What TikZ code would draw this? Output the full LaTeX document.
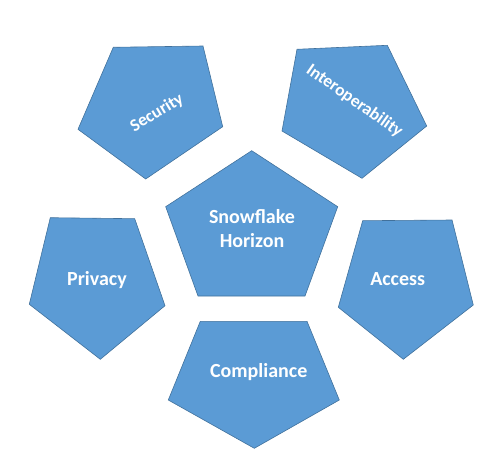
\documentclass[tikz,border=0pt]{standalone}
\usepackage{fontspec}
\setmainfont{Carlito}
\usetikzlibrary{positioning}

\definecolor{petalfill}{HTML}{5B9BD5}
\definecolor{petaledge}{HTML}{41719C}

\begin{document}
\begin{tikzpicture}[x=1pt,y=-1pt,
  petal/.style={fill=petalfill,draw=petaledge,line width=0.6pt,line join=miter},
  lbl/.style={text=white,font=\bfseries\fontsize{20}{24.5}\selectfont,align=center,inner sep=0pt},
  tilted/.style={lbl,font=\bfseries\fontsize{17.5}{21}\selectfont}]

\useasboundingbox (0,0) rectangle (492,468);

% Centre pentagon
\filldraw[petal] (251.7,150.7) -- (337.7,206.7) -- (305,296) -- (198,296) -- (165.7,206.7) -- cycle;
\node[lbl] (horizon) at (252,228.5) {Snowflake\\Horizon};

% Upper left and upper right
\filldraw[petal] (113.3,47.3) -- (203,46) -- (222.7,126.7) -- (145.7,179) -- (78,129.3) -- cycle;
\node[tilted,rotate=31] (security) at (157,113) {Security};

\filldraw[petal] (297,49.3) -- (387.3,45.3) -- (426.7,126) -- (362,178.3) -- (282,131) -- cycle;
\node[tilted,rotate=-35] (interop) at (354.5,101) {Interoperability};

% Left and right
\filldraw[petal] (50.3,217.7) -- (134.7,218.7) -- (165,305.7) -- (100.3,359.3) -- (29.3,304.3) -- cycle;
\node[lbl] (privacy) at (97,280) {Privacy};

\filldraw[petal] (362.7,220.7) -- (452,220) -- (473.3,305) -- (403.3,359.3) -- (338.3,307.3) -- cycle;
\node[lbl] (access) at (397.7,279.3) {Access};

% Bottom
\filldraw[petal] (200.3,321.3) -- (307,321.3) -- (339.3,400) -- (254.3,448.3) -- (168.3,400) -- cycle;
\node[lbl] (compliance) at (258.7,372) {Compliance};

\end{tikzpicture}
\end{document}
